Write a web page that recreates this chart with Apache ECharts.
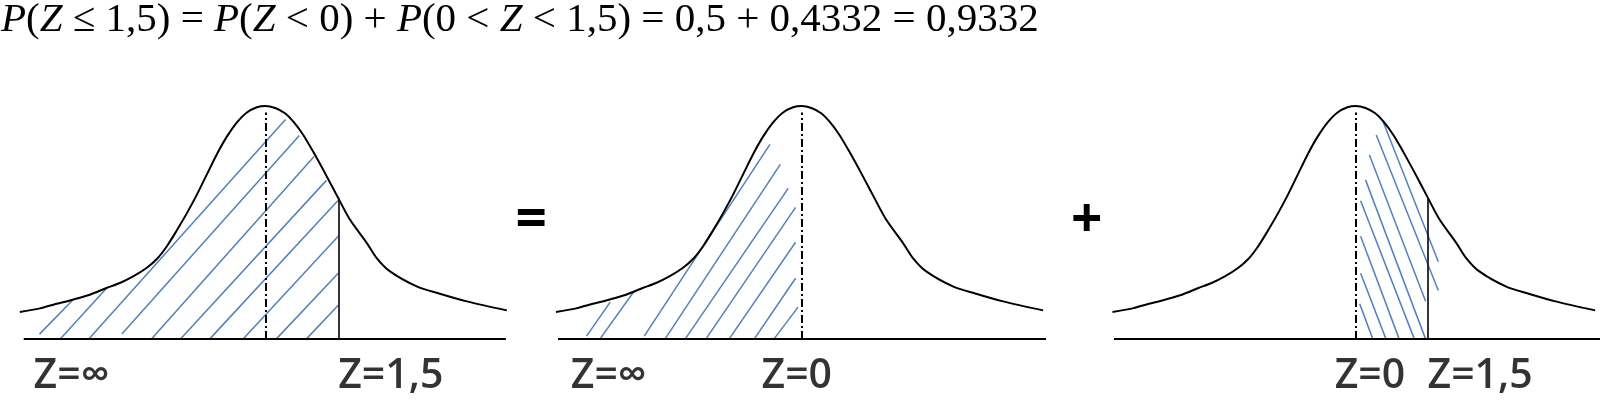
<!DOCTYPE html>
<html><head><meta charset="utf-8">
<script src="https://cdn.jsdelivr.net/npm/echarts@6/dist/echarts.min.js"></script>
<style>html,body{margin:0;padding:0;background:#fff}#c{width:1600px;height:411px}</style>
</head><body><div id="c"></div>
<script>
// ---- data ----
const formula = 'P(Z ≤ 1,5) = P(Z < 0) + P(0 < Z < 1,5) = 0,5 + 0,4332 = 0,9332';
const operators = ['=', '+'];

// bell curve (z, height)
const curveZ = [-4.98,-4.57,-4.30,-3.91,-3.56,-3.22,-2.95,-2.68,-2.41,-2.20,-2.00,-1.80,-1.59,-1.39,-1.19,-0.99,-0.78,-0.58,-0.38,-0.17,0,
  0.20,0.40,0.57,0.77,0.97,1.23,1.48,1.72,2.06,2.26,2.53,3.07,3.54,4.09,4.9];
const curveH = [27.2,30.8,34.5,39.5,44.5,51.2,56.2,62.8,71.2,80.2,92.8,108.5,126.2,144.5,164.5,184.5,202.8,216.8,226.8,232.2,233.5,
  231.5,226.2,217.8,204.5,187.8,164.5,141.2,119.5,96.2,81.2,67.8,52.8,45.5,37.8,28.8];

// baseline extents per panel
const baseExtent = [[-4.9, 4.88], [-4.94, 4.96], [-4.95, 5.0]];
// dash-dot centre line (z, top height)
const centreZ = 0, centreTop = 227;
// solid cut line per panel (null = none)
const cutZ = [1.48, null, 1.48];
const cutTop = 141;

// hatch segments [z1, h1, z2, h2]
const hatch1 = [
  [-4.58,5,-3.91,39],[-4.16,0,-3.22,51],[-3.58,0,0.41,220],[-2.91,5,0.69,204],
  [-2.31,0,0.99,183],[-1.72,0,1.24,159],[-1.13,0,1.48,139],[-0.45,0,1.48,103],
  [0.22,0,1.48,66],[0.83,0,1.48,34]
];
const hatch2 = [
  [-4.36,3,-3.88,37],[-4.09,0,-3.41,47],[-3.19,3,-0.64,195],[-2.77,0,-0.43,175],
  [-2.36,0,-0.27,151],[-1.94,0,-0.12,132],[-1.47,0,-0.12,97],[-0.96,0,-0.12,61],
  [-0.56,0,-0.07,32]
];
const hatch3 = [
  [0.55,219,1.69,77.5],[0.42,204.5,1.69,48.7],[0.28,184.5,1.43,38],[0.20,159.5,1.43,0],
  [0.10,138.5,1.20,0],[0.10,103,0.89,0],[0.10,66,0.62,0],[0.08,35.5,0.35,0]
];
const hatches = [hatch1, hatch2, hatch3];

// labels under each panel
const labelText = [['Z=∞', 'Z=1,5'], ['Z=∞', 'Z=0'], ['Z=0', 'Z=1,5']];
const labelZ = [[-4.7, 1.48], [-4.68, -0.81], [-0.43, 1.47]];
const labelH = -37.5;

// ---- chart ----
const chart = echarts.init(document.getElementById('c'), null, {renderer: 'canvas'});
const gridLeft = [18.8, 555, 1111.5];
const grids = [], xAxes = [], yAxes = [], series = [];
const BLUE = '#4F81BD';
for (let i = 0; i < 3; i++) {
  grids.push({left: gridLeft[i], width: 493, top: 99.5, height: 312, containLabel: false});
  xAxes.push({type: 'value', gridIndex: i, min: -5, max: 5, show: false});
  yAxes.push({type: 'value', gridIndex: i, min: -72, max: 240, show: false});
  // hatch
  series.push({
    type: 'lines', coordinateSystem: 'cartesian2d', xAxisIndex: i, yAxisIndex: i,
    data: hatches[i].map(s => ({coords: [[s[0], s[1]], [s[2], s[3]]]})),
    lineStyle: {color: BLUE, width: 1.5, opacity: 1, curveness: 0}, silent: true, z: 2
  });
  // curve
  series.push({
    type: 'line', xAxisIndex: i, yAxisIndex: i,
    data: curveZ.map((z, k) => [z, curveH[k]]),
    smooth: 0.3, symbol: 'none', clip: false,
    lineStyle: {color: '#000', width: 2}, silent: true, z: 3
  });
  // baseline
  series.push({
    type: 'lines', coordinateSystem: 'cartesian2d', xAxisIndex: i, yAxisIndex: i,
    data: [{coords: [[baseExtent[i][0], 0], [baseExtent[i][1], 0]]}],
    lineStyle: {color: '#000', width: 2, opacity: 1}, silent: true, z: 3
  });
  // centre dash-dot line
  series.push({
    type: 'lines', coordinateSystem: 'cartesian2d', xAxisIndex: i, yAxisIndex: i,
    data: [{coords: [[centreZ, 0], [centreZ, centreTop]]}],
    lineStyle: {color: '#000', width: 2, opacity: 1, type: [8, 3, 2, 3]}, silent: true, z: 4
  });
  // cut line
  if (cutZ[i] !== null) {
    series.push({
      type: 'lines', coordinateSystem: 'cartesian2d', xAxisIndex: i, yAxisIndex: i,
      data: [{coords: [[cutZ[i], 0], [cutZ[i], cutTop]]}],
      lineStyle: {color: '#111', width: 1.7, opacity: 1}, silent: true, z: 4
    });
  }
  // labels
  series.push({
    type: 'scatter', xAxisIndex: i, yAxisIndex: i, symbolSize: 0, clip: false,
    data: labelText[i].map((t, k) => ({name: t, value: [labelZ[i][k], labelH]})),
    label: {show: true, position: 'right', distance: 0, formatter: '{b}',
      fontFamily: 'Open Sans', fontWeight: 600, fontSize: 41, color: '#000'},
    silent: true, z: 5
  });
}

const richFormula = formula.replace(/([PZ])/g, '{i|$1}');
const option = {
  animation: false,
  backgroundColor: '#fff',
  grid: grids, xAxis: xAxes, yAxis: yAxes, series: series,
  graphic: [
    {type: 'text', x: 1, y: 20, silent: true, style: {
      text: richFormula, fontFamily: 'Liberation Serif', fontSize: 41, fill: '#000',
      verticalAlign: 'middle',
      rich: {i: {fontFamily: 'Liberation Serif', fontSize: 41, fontStyle: 'italic', fill: '#000'}}
    }},
    {type: 'text', x: 531.3, y: 221, silent: true, style: {
      text: operators[0], fontFamily: 'Open Sans', fontWeight: 'bold', fontSize: 55,
      fill: '#000', align: 'center', verticalAlign: 'middle'}},
    {type: 'text', x: 1086.8, y: 221, silent: true, style: {
      text: operators[1], fontFamily: 'Open Sans', fontWeight: 'bold', fontSize: 55,
      fill: '#000', align: 'center', verticalAlign: 'middle'}}
  ]
};
chart.setOption(option);
</script></body></html>
